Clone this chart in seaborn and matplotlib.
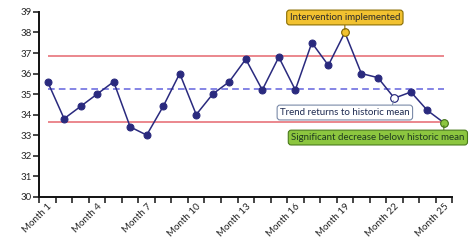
import numpy as np
import pandas as pd
import matplotlib
matplotlib.use("Agg")
import matplotlib.pyplot as plt
import seaborn as sns

# Données
months = [f"Month {i}" for i in range(1, 26)]
values = [35.6, 33.8, 34.4, 35.0, 35.6, 33.4, 33.0, 34.4, 36.0, 34.0,
          35.0, 35.6, 36.7, 35.2, 36.8, 35.2, 37.5, 36.4, 38.0, 36.0,
          35.8, 34.8, 35.1, 34.2, 33.6]
mean_value = 35.24
upper_limit = 36.87
lower_limit = 33.62
label_every = 3

annotations = ["Intervention implemented",
               "Trend returns to historic mean",
               "Significant decrease below historic mean"]
annot_months = [19, 22, 25]

df = pd.DataFrame({"pos": np.arange(len(months)), "month": months, "value": values})

sns.set_style("ticks")
plt.rcParams['font.family'] = ['Lato', 'DejaVu Sans']

navy = "#2a2a7e"
fig = plt.figure(figsize=(4.74, 2.44), dpi=100)
ax = fig.add_axes([0.083, 0.194, 0.871, 0.757])

# Limites de contrôle et moyenne
ax.hlines([upper_limit, lower_limit], 0, len(months) - 1, color="#e8737a", lw=1.2, zorder=1)
ax.hlines(mean_value, 0, len(months) - 1, color="#7070e0", lw=1.2, linestyles=(0, (4, 2.5)), zorder=1)

sns.lineplot(data=df, x="pos", y="value", ax=ax, color=navy, lw=1.1,
             marker="o", markersize=5, markeredgecolor=navy, zorder=3)

# Points mis en évidence
face = ["#f2c230", "white", "#8cc63f"]
edge = ["#8a6d00", navy, "#4a7a1c"]
for m, fc, ec in zip(annot_months, face, edge):
    ax.scatter(m - 1, values[m - 1], s=30, color=fc, edgecolor=ec, lw=0.8, zorder=4)

# Bulles d'annotation
box_pos = [(18.0, 38.73), (18.0, 34.1), (20.0, 32.88)]
box_rel = [(0.5, 0.0), (0.86, 1.0), (0.88, 1.0)]
box_fc = ["#f2c230", "white", "#8cc63f"]
box_ec = ["#8a6d00", "#7a8aa8", "#4a7a1c"]
txt_col = ["#2a2a2a", "#1e2a50", "#1e3a20"]
for txt, m, (bx, by), rp, fc, ec, tc in zip(annotations, annot_months, box_pos, box_rel,
                                            box_fc, box_ec, txt_col):
    ax.annotate(txt, xy=(m - 1, values[m - 1]), xytext=(bx, by),
                ha="center", va="center", fontsize=7, color=tc, zorder=5,
                bbox=dict(boxstyle="round,pad=0.3,rounding_size=0.3", fc=fc, ec=ec, lw=0.8),
                arrowprops=dict(arrowstyle="-", color=ec, lw=0.8, shrinkA=0, shrinkB=2,
                                relpos=rp))

# Axes
ax.set_xlim(-0.5, len(months) - 0.5)
ax.set_ylim(30, 39)
ax.set_yticks(range(30, 40))
ax.set_xticks(np.arange(-0.5, len(months)), minor=False)
ax.set_xticklabels([])
ax.set_xticks(np.arange(0, len(months), label_every), minor=True)
ax.set_xticklabels(months[::label_every], minor=True, rotation=45, ha="right",
                   rotation_mode="anchor", fontsize=7)
ax.tick_params(axis="x", which="minor", length=0, pad=4)
ax.tick_params(axis="x", which="major", length=4, width=1.2, direction="out")
ax.tick_params(axis="y", length=4, width=1.2, labelsize=7, pad=1.5)
ax.set_xlabel("")
ax.set_ylabel("")
for s in ["top", "right"]:
    ax.spines[s].set_visible(False)
for s in ["left", "bottom"]:
    ax.spines[s].set_linewidth(1.4)
    ax.spines[s].set_color("#111111")

fig.savefig("out.png", dpi=100)
